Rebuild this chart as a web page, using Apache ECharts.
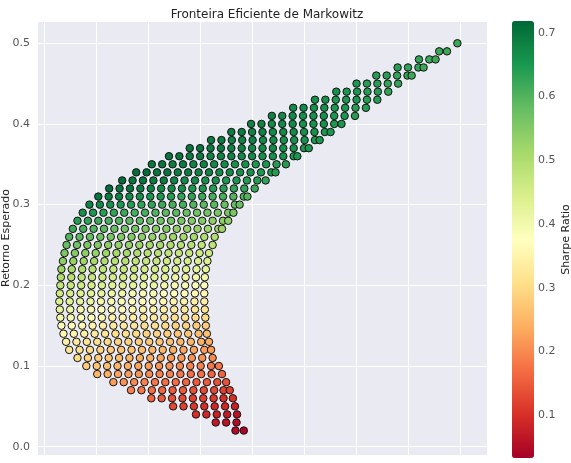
<!DOCTYPE html>
<html>
<head>
<meta charset="utf-8">
<script src="https://cdn.jsdelivr.net/npm/echarts@6/dist/echarts.min.js"></script>
<style>html,body{margin:0;padding:0;background:#fff}#chart{width:571px;height:463px}</style>
</head>
<body>
<div id="chart"></div>
<script>
// retorno esperado de cada linha de carteiras
var returns = [0.02,0.03,0.04,0.05,0.06,0.07,0.08,0.09,0.10,0.11,0.12,0.13,0.14,0.15,0.16,0.17,0.18,0.19,0.20,
    0.21,0.22,0.23,0.24,0.25,0.26,0.27,0.28,0.29,0.30,0.31,0.32,0.33,0.34,0.35,0.36,0.37,0.38,0.39,0.40,
    0.41,0.42,0.43,0.44,0.45,0.46,0.47,0.48,0.49,0.50];

// volatilidade (eixo x sem rotulos) por linha
var vols = [
    [3.68,3.84],
    [3.30,3.50,3.70],
    [2.92,3.12,3.32,3.52,3.71],
    [2.48,2.68,2.88,3.08,3.28,3.48,3.67],
    [2.06,2.26,2.46,2.66,2.86,3.06,3.26,3.45,3.63],
    [1.67,1.87,2.07,2.27,2.47,2.67,2.87,3.07,3.27,3.45,3.57],
    [1.33,1.53,1.73,1.93,2.13,2.33,2.53,2.73,2.93,3.13,3.33,3.50],
    [1.02,1.22,1.42,1.62,1.82,2.02,2.22,2.42,2.62,2.82,3.02,3.22,3.42],
    [0.81,1.01,1.21,1.41,1.61,1.81,2.01,2.21,2.41,2.61,2.81,3.01,3.21,3.36],
    [0.64,0.84,1.04,1.24,1.44,1.64,1.84,2.04,2.24,2.44,2.64,2.84,3.04,3.24],
    [0.48,0.68,0.88,1.08,1.28,1.48,1.68,1.88,2.08,2.28,2.48,2.68,2.88,3.08,3.21],
    [0.42,0.62,0.82,1.02,1.22,1.42,1.62,1.82,2.02,2.22,2.42,2.62,2.82,3.02,3.17],
    [0.37,0.57,0.77,0.97,1.17,1.37,1.57,1.77,1.97,2.17,2.37,2.57,2.77,2.97,3.13],
    [0.33,0.53,0.73,0.93,1.13,1.33,1.53,1.73,1.93,2.13,2.33,2.53,2.73,2.93,3.11],
    [0.31,0.51,0.71,0.91,1.11,1.31,1.51,1.71,1.91,2.11,2.31,2.51,2.71,2.91,3.10],
    [0.30,0.50,0.70,0.90,1.10,1.30,1.50,1.70,1.90,2.10,2.30,2.50,2.70,2.90,3.09],
    [0.29,0.49,0.69,0.89,1.09,1.29,1.49,1.69,1.89,2.09,2.29,2.49,2.69,2.89,3.08],
    [0.30,0.50,0.70,0.90,1.10,1.30,1.50,1.70,1.90,2.10,2.30,2.50,2.70,2.90,3.08],
    [0.31,0.51,0.71,0.91,1.11,1.31,1.51,1.71,1.91,2.11,2.31,2.51,2.71,2.91,3.08],
    [0.32,0.52,0.72,0.92,1.12,1.32,1.52,1.72,1.92,2.12,2.32,2.52,2.72,2.92,3.09],
    [0.33,0.53,0.73,0.93,1.13,1.33,1.53,1.73,1.93,2.13,2.33,2.53,2.73,2.93,3.11],
    [0.36,0.56,0.76,0.96,1.16,1.36,1.56,1.76,1.96,2.16,2.36,2.56,2.76,2.96,3.14],
    [0.39,0.59,0.79,0.99,1.19,1.39,1.59,1.79,1.99,2.19,2.39,2.59,2.79,2.99,3.17],
    [0.43,0.63,0.83,1.03,1.23,1.43,1.63,1.83,2.03,2.23,2.43,2.63,2.83,3.03,3.24],
    [0.48,0.68,0.88,1.08,1.28,1.48,1.68,1.88,2.08,2.28,2.48,2.68,2.88,3.08,3.28],
    [0.55,0.75,0.95,1.15,1.35,1.55,1.75,1.95,2.15,2.35,2.55,2.75,2.95,3.15,3.35,3.42],
    [0.64,0.84,1.04,1.24,1.44,1.64,1.84,2.04,2.24,2.44,2.64,2.84,3.04,3.24,3.44,3.54],
    [0.74,0.94,1.14,1.34,1.54,1.74,1.94,2.14,2.34,2.54,2.74,2.94,3.14,3.34,3.54,3.64],
    [0.87,1.07,1.27,1.47,1.67,1.87,2.07,2.27,2.47,2.67,2.87,3.07,3.27,3.47,3.67,3.76],
    [1.04,1.24,1.44,1.64,1.84,2.04,2.24,2.44,2.64,2.84,3.04,3.24,3.44,3.64,3.84,3.91],
    [1.25,1.45,1.65,1.85,2.05,2.25,2.45,2.65,2.85,3.05,3.25,3.45,3.65,3.85,4.05],
    [1.50,1.70,1.90,2.10,2.30,2.50,2.70,2.90,3.10,3.30,3.50,3.70,3.90,4.10,4.26],
    [1.77,1.97,2.17,2.37,2.57,2.77,2.97,3.17,3.37,3.57,3.77,3.97,4.17,4.37,4.45],
    [2.07,2.27,2.47,2.67,2.87,3.07,3.27,3.47,3.67,3.87,4.07,4.27,4.47,4.65],
    [2.40,2.60,2.80,3.00,3.20,3.40,3.60,3.80,4.00,4.20,4.40,4.60,4.80,4.87],
    [2.80,3.00,3.20,3.40,3.60,3.80,4.00,4.20,4.40,4.60,4.80,5.00,5.09],
    [3.21,3.41,3.61,3.81,4.01,4.21,4.41,4.61,4.81,5.01,5.21,5.30],
    [3.60,3.80,4.00,4.20,4.40,4.60,4.80,5.00,5.20,5.40,5.51],
    [3.98,4.18,4.38,4.58,4.78,4.98,5.18,5.38,5.58,5.72],
    [4.38,4.58,4.78,4.98,5.18,5.38,5.58,5.78,5.98],
    [4.79,4.99,5.19,5.39,5.59,5.79,5.99,6.19],
    [5.21,5.41,5.61,5.81,6.01,6.21,6.41],
    [5.62,5.82,6.02,6.22,6.42,6.62],
    [6.01,6.21,6.41,6.61,6.81],
    [6.39,6.59,6.79,6.99,7.07],
    [6.80,7.00,7.20,7.30],
    [7.21,7.41,7.53],
    [7.60,7.75],
    [7.95]
];

// sharpe ratio de cada carteira
var sharpes = [
    [0.05,0.04],
    [0.07,0.06,0.05],
    [0.10,0.09,0.08,0.07,0.06],
    [0.13,0.12,0.11,0.10,0.09,0.09,0.08],
    [0.16,0.15,0.14,0.13,0.12,0.12,0.11,0.10,0.10],
    [0.19,0.18,0.17,0.16,0.15,0.15,0.14,0.13,0.13,0.12,0.12],
    [0.22,0.21,0.20,0.19,0.18,0.17,0.17,0.16,0.15,0.15,0.14,0.14],
    [0.25,0.24,0.23,0.22,0.21,0.20,0.19,0.19,0.18,0.17,0.17,0.16,0.16],
    [0.28,0.27,0.26,0.25,0.24,0.23,0.22,0.21,0.21,0.20,0.19,0.19,0.18,0.18],
    [0.30,0.29,0.28,0.27,0.26,0.25,0.24,0.24,0.23,0.22,0.22,0.21,0.21,0.20],
    [0.32,0.31,0.30,0.29,0.28,0.27,0.27,0.26,0.25,0.25,0.24,0.23,0.23,0.22,0.22],
    [0.34,0.33,0.32,0.31,0.30,0.29,0.29,0.28,0.27,0.27,0.26,0.25,0.25,0.24,0.24],
    [0.36,0.35,0.34,0.33,0.32,0.31,0.31,0.30,0.29,0.29,0.28,0.27,0.27,0.26,0.26],
    [0.38,0.37,0.36,0.35,0.34,0.33,0.33,0.32,0.31,0.31,0.30,0.29,0.29,0.28,0.28],
    [0.40,0.39,0.38,0.37,0.36,0.35,0.35,0.34,0.33,0.33,0.32,0.31,0.31,0.30,0.30],
    [0.42,0.41,0.40,0.39,0.38,0.37,0.37,0.36,0.35,0.35,0.34,0.33,0.33,0.32,0.32],
    [0.44,0.43,0.42,0.41,0.40,0.39,0.39,0.38,0.37,0.37,0.36,0.35,0.35,0.34,0.34],
    [0.46,0.45,0.44,0.43,0.42,0.41,0.41,0.40,0.39,0.39,0.38,0.37,0.37,0.36,0.36],
    [0.48,0.47,0.46,0.45,0.44,0.43,0.43,0.42,0.41,0.41,0.40,0.39,0.39,0.38,0.38],
    [0.50,0.49,0.48,0.47,0.46,0.45,0.45,0.44,0.43,0.43,0.42,0.41,0.41,0.40,0.40],
    [0.52,0.51,0.50,0.49,0.48,0.47,0.47,0.46,0.45,0.45,0.44,0.43,0.43,0.42,0.42],
    [0.54,0.53,0.52,0.51,0.50,0.49,0.49,0.48,0.47,0.47,0.46,0.45,0.45,0.44,0.44],
    [0.56,0.55,0.54,0.53,0.52,0.51,0.51,0.50,0.49,0.49,0.48,0.47,0.47,0.46,0.46],
    [0.58,0.57,0.56,0.55,0.54,0.53,0.53,0.52,0.51,0.51,0.50,0.49,0.49,0.48,0.48],
    [0.60,0.59,0.58,0.57,0.56,0.55,0.55,0.54,0.53,0.53,0.52,0.51,0.51,0.50,0.50],
    [0.62,0.61,0.60,0.59,0.58,0.57,0.57,0.56,0.55,0.55,0.54,0.53,0.53,0.52,0.52,0.52],
    [0.64,0.63,0.62,0.61,0.60,0.59,0.59,0.58,0.57,0.57,0.56,0.55,0.55,0.54,0.54,0.54],
    [0.66,0.65,0.64,0.63,0.62,0.61,0.61,0.60,0.59,0.59,0.58,0.57,0.57,0.56,0.56,0.56],
    [0.68,0.67,0.66,0.65,0.64,0.63,0.63,0.62,0.61,0.61,0.60,0.59,0.59,0.58,0.58,0.58],
    [0.70,0.69,0.68,0.67,0.66,0.65,0.65,0.64,0.63,0.63,0.62,0.61,0.61,0.60,0.60,0.60],
    [0.71,0.70,0.70,0.69,0.68,0.67,0.67,0.66,0.65,0.65,0.64,0.64,0.63,0.63,0.62],
    [0.71,0.70,0.70,0.69,0.69,0.68,0.67,0.67,0.66,0.66,0.65,0.65,0.64,0.64,0.63],
    [0.71,0.71,0.70,0.70,0.69,0.69,0.68,0.68,0.67,0.67,0.66,0.66,0.65,0.65,0.64],
    [0.70,0.70,0.69,0.69,0.68,0.68,0.67,0.67,0.66,0.66,0.65,0.65,0.64,0.64],
    [0.70,0.70,0.69,0.69,0.68,0.68,0.68,0.67,0.67,0.66,0.66,0.66,0.65,0.65],
    [0.70,0.70,0.69,0.69,0.68,0.68,0.67,0.67,0.67,0.66,0.66,0.65,0.65],
    [0.69,0.69,0.68,0.68,0.68,0.67,0.67,0.66,0.66,0.66,0.65,0.65],
    [0.69,0.69,0.68,0.68,0.67,0.67,0.67,0.66,0.66,0.65,0.65],
    [0.68,0.68,0.67,0.67,0.67,0.66,0.66,0.66,0.65,0.65],
    [0.68,0.67,0.67,0.66,0.66,0.66,0.65,0.65,0.64],
    [0.67,0.67,0.66,0.66,0.65,0.65,0.64,0.64],
    [0.66,0.66,0.65,0.65,0.65,0.64,0.64],
    [0.66,0.65,0.65,0.64,0.64,0.63],
    [0.65,0.64,0.64,0.63,0.63],
    [0.64,0.64,0.63,0.63,0.62],
    [0.64,0.63,0.63,0.62],
    [0.63,0.62,0.62],
    [0.62,0.62],
    [0.62]
];

// linhas verticais da grade (eixo x sem rotulos)
var xGridTicks = [0, 1, 2, 3, 4, 5, 6, 7, 8];

var rdylgn = ['#a50026','#d73027','#f46d43','#fdae61','#fee08b','#ffffbf','#d9ef8b','#a6d96a','#66bd63','#1a9850','#006837'];

var points = [];
for (var i = 0; i < returns.length; i++) {
    for (var j = 0; j < vols[i].length; j++) {
        points.push([vols[i][j], returns[i], sharpes[i][j]]);
    }
}

var myChart = echarts.init(document.getElementById('chart'));

option = {
    backgroundColor: '#fff',
    animation: false,
    title: {
        text: 'Fronteira Eficiente de Markowitz',
        left: 262, top: 4, textAlign: 'center',
        textStyle: {fontSize: 12, fontWeight: 'normal', color: '#222', fontFamily: 'DejaVu Sans'}
    },
    grid: [
        {left: 38, right: 84, top: 21, bottom: 8, show: true, backgroundColor: '#eaeaf2', borderWidth: 0,
         containLabel: false, outerBoundsMode: 'none'},
        {left: 512, width: 22, top: 21, bottom: 5, show: false, containLabel: false, outerBoundsMode: 'none'}
    ],
    xAxis: [
        {type: 'value', min: -0.12, max: 8.52,
         axisLabel: {show: false}, axisLine: {show: false}, axisTick: {show: false},
         splitLine: {show: false}},
        {type: 'value', gridIndex: 1, show: false}
    ],
    yAxis: [
        {type: 'value', min: -0.0103, max: 0.5276, splitNumber: 5,
         name: 'Retorno Esperado', nameLocation: 'middle', nameGap: 26, nameMoveOverlap: false,
         nameTextStyle: {color: '#222', fontSize: 11, fontFamily: 'DejaVu Sans'},
         axisLabel: {color: '#555', fontSize: 11, fontFamily: 'DejaVu Sans', formatter: function (v) { return v.toFixed(1); }, showMinLabel: false, showMaxLabel: false},
         axisLine: {show: false}, axisTick: {show: false},
         splitLine: {lineStyle: {color: '#fff', width: 1}}},
        {type: 'value', gridIndex: 1, position: 'right', min: 0.033, max: 0.7185, splitNumber: 7,
         name: 'Sharpe Ratio', nameLocation: 'middle', nameGap: 27, nameRotate: 90, nameMoveOverlap: false,
         nameTextStyle: {color: '#222', fontSize: 11, fontFamily: 'DejaVu Sans'},
         axisLabel: {color: '#555', fontSize: 11, fontFamily: 'DejaVu Sans', margin: 4, formatter: function (v) { return v.toFixed(1); }, showMinLabel: false, showMaxLabel: false},
         axisLine: {show: false}, axisTick: {show: false}, splitLine: {show: false}}
    ],
    visualMap: {
        type: 'continuous', min: 0.033, max: 0.7185, dimension: 2, seriesIndex: 0,
        orient: 'vertical', left: 512, top: 21, itemWidth: 22, itemHeight: 437,
        calculable: false, text: null, showLabel: false, padding: 0,
        inRange: {color: rdylgn}
    },
    series: [{
        type: 'scatter',
        data: points,
        symbolSize: 7.5,
        z: 3,
        itemStyle: {borderColor: '#111', borderWidth: 1, opacity: 1}
    }, {
        type: 'line',
        data: [],
        z: 1,
        silent: true,
        markLine: {
            silent: true, symbol: 'none', label: {show: false}, z: 1,
            lineStyle: {color: '#fff', width: 1, type: 'solid'},
            data: xGridTicks.map(function (v) { return {xAxis: v}; })
        }
    }]
};
myChart.setOption(option);
</script>
</body>
</html>
